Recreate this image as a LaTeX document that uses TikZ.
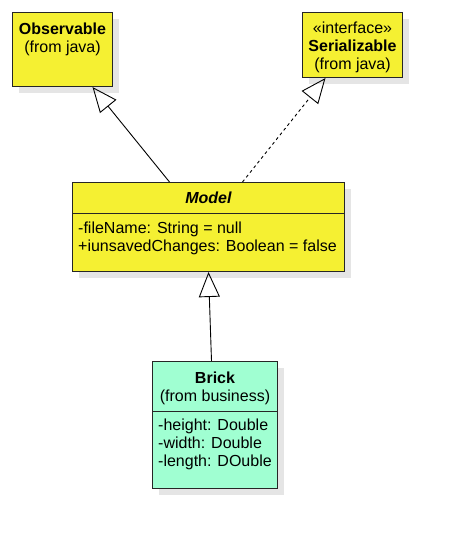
\documentclass[tikz,border=0pt]{standalone}
\usepackage{fontspec}
\setmainfont{Liberation Sans}
\usepackage{xcolor}
\usetikzlibrary{positioning, arrows.meta, shadows}
\definecolor{umlyellow}{RGB}{245,240,50}
\definecolor{umlgreen}{RGB}{160,255,210}

\begin{document}
\begin{tikzpicture}[
    x=1pt, y=-1pt,
    cls/.style={draw=black!85, line width=1pt, anchor=north west, inner sep=0pt,
      drop shadow={shadow xshift=6pt, shadow yshift=-6pt, fill=black!10, opacity=1}},
    txt/.style={font=\fontsize{16}{18}\selectfont, align=center, inner sep=0pt},
    attr/.style={font=\fontsize{16}{18}\selectfont, align=left, inner sep=0pt},
    gen/.style={-{Triangle[open, length=25pt, width=21pt]}, line width=0.9pt}
  ]
  \useasboundingbox (0,0) rectangle (451,538);
  % java classes
  \node[cls, fill=umlyellow, minimum width=100pt, minimum height=74pt] (obs) at (12,12) {};
  \node[txt, below=11pt of obs.north] (obstxt) {\textbf{Observable}\\(from java)};
  \node[cls, fill=umlyellow, minimum width=100pt, minimum height=65pt] (ser) at (302,12) {};
  \node[txt, below=10pt of ser.north] (sertxt) {«interface»\\\textbf{Serializable}\\(from java)};
  % Model
  \node[cls, fill=umlyellow, minimum width=272pt, minimum height=31pt] (model) at (72,182) {};
  \node[cls, fill=umlyellow, minimum width=272pt, minimum height=58pt] (modelattr) at (72,213) {};
  \node[txt, below=10pt of model.north] (modeltxt) {\textbf{\textit{Model}}};
  \node[attr, anchor=north west] (modelvars) at ([xshift=6pt, yshift=-8.5pt]modelattr.north west)
    {-fileName: String = null\\+iunsavedChanges: Boolean = false};
  % Brick
  \node[cls, fill=umlgreen, minimum width=125pt, minimum height=50pt] (brick) at (152,361) {};
  \node[cls, fill=umlgreen, minimum width=125pt, minimum height=77pt] (brickattr) at (152,411) {};
  \node[txt, below=10.5pt of brick.north] (bricktxt) {\textbf{Brick}\\(from business)};
  \node[attr, anchor=north west] (brickvars) at ([xshift=6pt, yshift=-8pt]brickattr.north west)
    {-height: Double\\-width: Double\\-length: DOuble};
  % relations
  \draw[gen] ([xshift=-39pt]model.north) -- ([xshift=30pt]obs.south);
  \draw[gen, dash pattern=on 3pt off 3pt] ([xshift=34pt]model.north) -- ([xshift=-27pt]ser.south);
  \draw[gen] ([xshift=-3.5pt]brick.north) -- (modelattr.south);
\end{tikzpicture}
\end{document}
